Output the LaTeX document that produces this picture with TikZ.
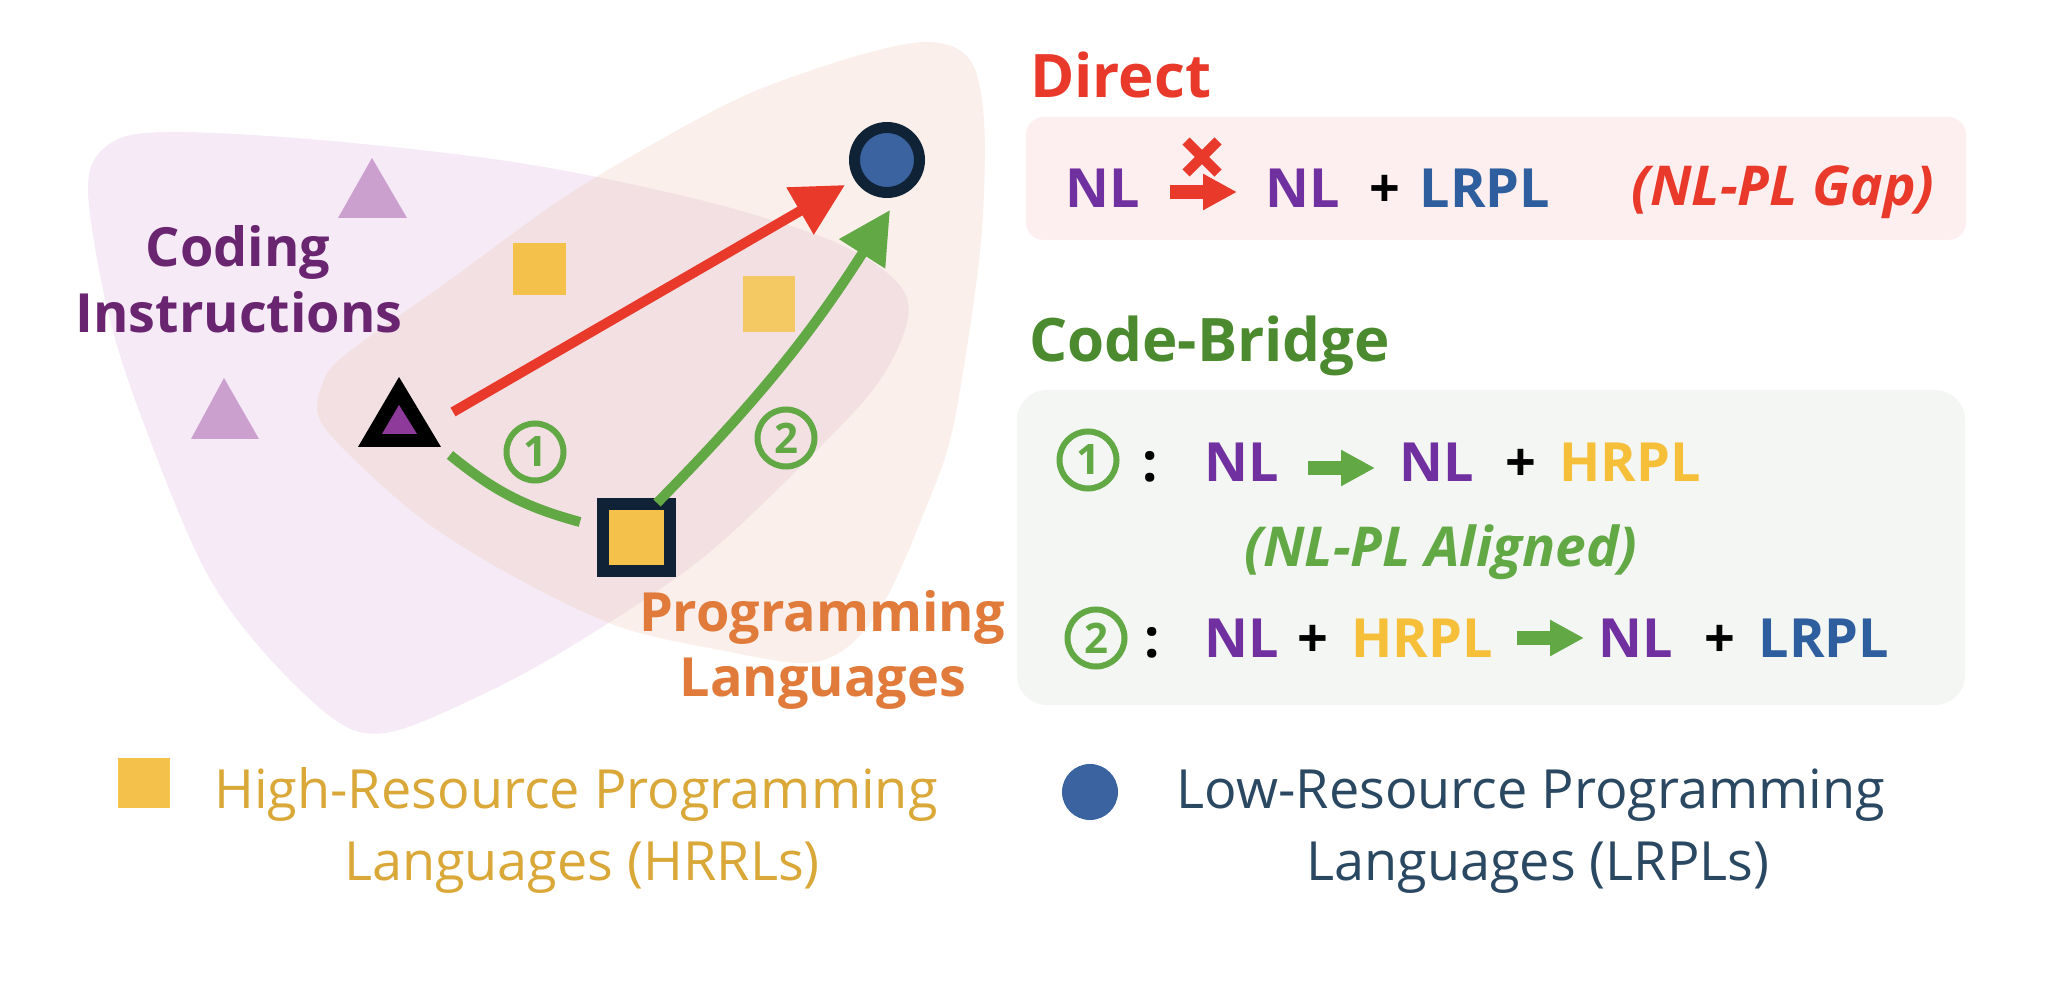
\documentclass[tikz,border=0pt]{standalone}
\usepackage{fontspec}
\setmainfont{Open Sans}
\usetikzlibrary{arrows.meta,calc,shapes.geometric}
\definecolor{purplebg}{HTML}{F6EAF7}
\definecolor{peachbg}{HTML}{FAEFEA}
\definecolor{overlapbg}{HTML}{F2E0E3}
\definecolor{tricol}{HTML}{CBA0CE}
\definecolor{innerpurple}{HTML}{8E3A9A}
\definecolor{citext}{HTML}{6A2570}
\definecolor{nlpurple}{HTML}{7030A0}
\definecolor{lrblue}{HTML}{2E5E9E}
\definecolor{hryellow}{HTML}{F6BF3A}
\definecolor{redc}{HTML}{E8392B}
\definecolor{greenc}{HTML}{62A845}
\definecolor{darkgreen}{HTML}{4B8A2F}
\definecolor{orangetext}{HTML}{E07B3B}
\definecolor{legendgold}{HTML}{D9A838}
\definecolor{legendslate}{HTML}{2B4862}
\definecolor{navy}{HTML}{0F2236}
\definecolor{circleblue}{HTML}{3A63A0}
\definecolor{sqyellow}{HTML}{F4C24A}
\definecolor{sqyellowb}{HTML}{F4C862}
\definecolor{pinkbox}{HTML}{FDEFEF}
\definecolor{greenbox}{HTML}{F3F6F2}
\tikzset{
  lbl/.style={inner sep=0pt, outer sep=0pt, anchor=base},
  bigb/.style={font=\fontsize{27}{32}\selectfont\bfseries},
  headb/.style={font=\fontsize{30}{36}\selectfont\bfseries},
  itb/.style={font=\fontsize{27.5}{32}\selectfont\bfseries\itshape},
  legtext/.style={font=\fontsize{27}{36}\selectfont},
  numc/.style={circle, draw=greenc, line width=3pt, minimum size=28.5pt, inner sep=0pt, text=greenc, font=\fontsize{21}{21}\selectfont\bfseries},
  redarr/.style={draw=redc, line width=5pt, -{Triangle[length=26pt,width=26pt]}},
  greenarr/.style={draw=greenc, line width=5pt, -{Triangle[length=26pt,width=26pt]}},
  greenline/.style={draw=greenc, line width=5pt},
  minired/.style={draw=redc, line width=7pt, -{Triangle[length=17pt,width=17pt]}},
  minigreen/.style={draw=greenc, line width=7pt, -{Triangle[length=17pt,width=17pt]}},
}
\def\purplepath{plot[smooth cycle, tension=0.55] coordinates {(88,190) (108,145) (165,132) (320,140) (520,163) (700,200) (830,240) (895,280) (908,318) (880,380) (820,447) (700,560) (560,653) (460,705) (385,733) (335,720) (262,650) (205,570) (150,440) (110,320)}}
\def\peachpath{plot[smooth cycle, tension=0.55] coordinates {(345,355) (450,280) (560,200) (660,140) (753,92) (860,55) (930,42) (970,60) (984,120) (982,230) (968,340) (950,440) (925,510) (888,595) (850,645) (805,663) (720,650) (620,627) (520,580) (430,525) (360,465) (320,420) (322,385)}}
\begin{document}
\begin{tikzpicture}[x=0.5pt,y=-0.5pt]
\useasboundingbox (0,0) rectangle (2052,994);
\fill[white] (0,0) rectangle (2052,994);
% regions
\fill[purplebg] \purplepath;
\fill[peachbg] \peachpath;
\begin{scope}
  \clip \purplepath;
  \fill[overlapbg] \peachpath;
\end{scope}
% scattered markers
\fill[tricol] (372,158) -- (338,218) -- (407,218) -- cycle;
\fill[tricol] (224,378) -- (191,439) -- (259,439) -- cycle;
\fill[sqyellow] (513,243) rectangle (566,295);
\fill[sqyellowb] (743,276) rectangle (795,332);
% source triangle
\coordinate (src) at (399,423);
\fill[black] (399,377) -- (358,447) -- (441,447) -- cycle;
\fill[innerpurple] (399,405) -- (382,434) -- (417,434) -- cycle;
% HRPL square and LRPL circle
\node[draw=navy, fill=sqyellow, line width=6pt, minimum size=33.5pt, inner sep=0pt] (hr) at (636,538) {};
\node[circle, draw=navy, fill=circleblue, line width=5.5pt, minimum size=32.5pt, inner sep=0pt] (lr) at (887,160) {};
% connectors
\draw[redarr] ($(src)+(54,-11)$) -- ($(lr)+(-42,25)$);
\draw[greenline] ($(src)+(51,32)$) to[bend right=12] ($(hr)+(-56,-16)$);
\draw[greenarr] ($(hr)+(21,-35)$) to[bend right=6] ($(lr)+(3,50)$);
\node[numc] (c1) at (535,452) {1};
\node[numc] (c2) at (786,438) {2};
% region labels
\node[lbl, bigb, text=citext] (ci1) at (238,267) {Coding};
\node[lbl, bigb, text=citext] (ci2) at (239,333) {Instructions};
\node[lbl, bigb, text=orangetext] (pl1) at (822,632) {Programming};
\node[lbl, bigb, text=orangetext] (pl2) at (823,697) {Languages};
% Direct
\node[lbl, headb, text=redc, anchor=base west] (dt) at (1030,98) {Direct};
\fill[pinkbox, rounded corners=9pt] (1026,117) rectangle (1966,240);
\node[lbl, bigb, text=nlpurple] (d1) at (1103,208) {NL};
\coordinate (da) at (1170,192);
\coordinate (db) at (1237,192);
\draw[minired] (da) -- (db);
\draw[redc, line width=5pt] (1186,141) -- (1218,173) (1218,141) -- (1186,173);
\node[lbl, bigb, text=nlpurple] (d2) at (1303,208) {NL};
\node[lbl, bigb, text=black] (d3) at (1385,208) {+};
\node[lbl, bigb, text=lrblue] (d4) at (1485,208) {LRPL};
\node[lbl, itb, text=redc] (d5) at (1783,206) {(NL-PL Gap)};
% Code-Bridge
\node[lbl, headb, text=darkgreen, anchor=base west] (cbt) at (1029,362) {Code-Bridge};
\fill[greenbox, rounded corners=15pt] (1017,390) rectangle (1965,705);
\node[numc] (r1c) at (1088,460) {1};
\node[lbl, bigb, text=black] (r1k) at (1150,482) {:};
\node[lbl, bigb, text=nlpurple] (r1a) at (1242,482) {NL};
\coordinate (r1s) at (1308,468);
\coordinate (r1e) at (1375,468);
\draw[minigreen] (r1s) -- (r1e);
\node[lbl, bigb, text=nlpurple] (r1b) at (1437,482) {NL};
\node[lbl, bigb, text=black] (r1p) at (1521,482) {+};
\node[lbl, bigb, text=hryellow] (r1h) at (1630,482) {HRPL};
\node[lbl, itb, text=greenc] (al) at (1441,567) {(NL-PL Aligned)};
\node[numc] (r2c) at (1096,638) {2};
\node[lbl, bigb, text=black] (r2k) at (1152,657) {:};
\node[lbl, bigb, text=nlpurple] (r2a) at (1242,657) {NL};
\node[lbl, bigb, text=black] (r2p) at (1313,657) {+};
\node[lbl, bigb, text=hryellow] (r2h) at (1422,657) {HRPL};
\coordinate (r2s) at (1517,638);
\coordinate (r2e) at (1584,638);
\draw[minigreen] (r2s) -- (r2e);
\node[lbl, bigb, text=nlpurple] (r2b) at (1636,657) {NL};
\node[lbl, bigb, text=black] (r2q) at (1720,657) {+};
\node[lbl, bigb, text=lrblue] (r2l) at (1824,657) {LRPL};
% legend
\fill[sqyellow] (118,758) rectangle (170,808);
\node[lbl, legtext, text=legendgold] (lg1) at (576,808) {High-Resource Programming};
\node[lbl, legtext, text=legendgold] (lg2) at (582,880) {Languages (HRRLs)};
\fill[circleblue] (1090,792) circle (14pt);
\node[lbl, legtext, text=legendslate] (lg3) at (1531,808) {Low-Resource Programming};
\node[lbl, legtext, text=legendslate] (lg4) at (1538,880) {Languages (LRPLs)};
\end{tikzpicture}
\end{document}
